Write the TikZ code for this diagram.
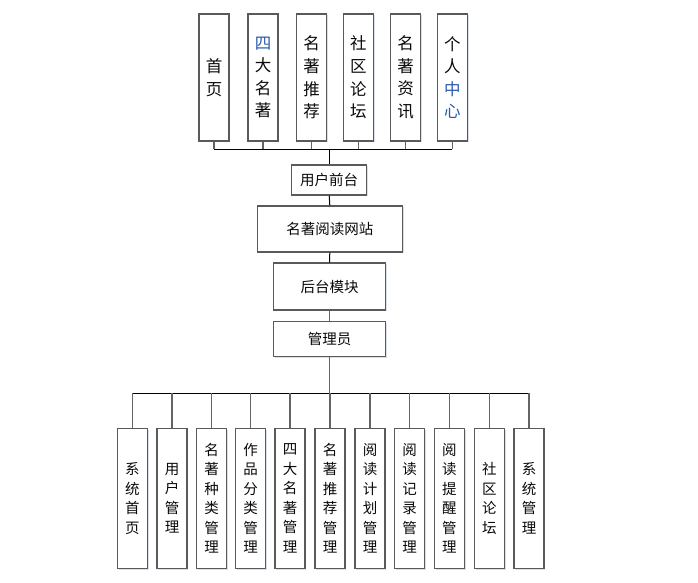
\documentclass[tikz,border=0pt]{standalone}
\usepackage{fontspec}
\setmainfont{Noto Sans CJK SC}
\usetikzlibrary{shadows}
\definecolor{boxgray}{RGB}{90,90,90}
\definecolor{stubgray}{RGB}{100,100,100}
\definecolor{txt}{RGB}{10,10,10}
\definecolor{txtblue}{RGB}{40,90,175}
\definecolor{shadowc}{RGB}{200,210,225}
\begin{document}
\begin{tikzpicture}[x=1pt,y=-1pt,
  basebox/.style={draw=boxgray, line width=1.2pt, fill=white, inner sep=0pt, align=center, text=txt,
     drop shadow={shadow xshift=1.2pt, shadow yshift=-1.2pt, fill=shadowc, opacity=0.7}},
  topbox/.style={basebox, minimum width=30pt, minimum height=127pt, font=\fontsize{16.5pt}{22.6pt}\selectfont},
  midbox/.style={basebox, font=\fontsize{14.5pt}{17pt}\selectfont},
  botbox/.style={basebox, minimum width=30pt, minimum height=140pt, font=\fontsize{14.5pt}{19.5pt}\selectfont},
  bus/.style={draw=black, line width=1pt},
  stub/.style={draw=stubgray, line width=1.2pt}]
\useasboundingbox (0,0) rectangle (698,582);
% top modules
\node[topbox] (t1) at (214,77.5) {首\\页};
\node[topbox] (t2) at (263,77.5) {{\color{txtblue}四}\\大\\名\\著};
\node[topbox] (t3) at (311.7,77.5) {名\\著\\推\\荐};
\node[topbox] (t4) at (358.3,77.5) {社\\区\\论\\坛};
\node[topbox] (t5) at (405.7,77.5) {名\\著\\资\\讯};
\node[topbox] (t6) at (452.3,77.5) {个\\人\\{\color{txtblue}中}\\{\color{txtblue}心}};
% middle chain
\node[midbox, minimum width=75pt, minimum height=30pt] (front) at (329.2,180) {用户前台};
\node[midbox, minimum width=145pt, minimum height=46pt] (site) at (329.8,229) {名著阅读网站};
\node[midbox, minimum width=112pt, minimum height=47pt] (back) at (329.5,286.5) {后台模块};
\node[midbox, minimum width=112pt, minimum height=35pt] (admin) at (329.5,339.3) {管理员};
% bottom modules
\node[botbox] (b1) at (132.3,498.3) {系\\统\\首\\页};
\node[botbox] (b2) at (172,498.3) {用\\户\\管\\理};
\node[botbox] (b3) at (211.6,498.3) {名\\著\\种\\类\\管\\理};
\node[botbox] (b4) at (250.7,498.3) {作\\品\\分\\类\\管\\理};
\node[botbox] (b5) at (290,498.3) {四\\大\\名\\著\\管\\理};
\node[botbox] (b6) at (330,498.3) {名\\著\\推\\荐\\管\\理};
\node[botbox] (b7) at (370,498.3) {阅\\读\\计\\划\\管\\理};
\node[botbox] (b8) at (409.5,498.3) {阅\\读\\记\\录\\管\\理};
\node[botbox] (b9) at (449.3,498.3) {阅\\读\\提\\醒\\管\\理};
\node[botbox] (b10) at (489.3,498.3) {社\\区\\论\\坛};
\node[botbox] (b11) at (529,498.3) {系\\统\\管\\理};
% top connectors
\coordinate (tb) at (329.2,149);
\foreach \i in {1,...,6} {\draw[stub] (t\i.south) -- (t\i.south |- tb);}
\draw[bus] (t1.south |- tb) -- (t6.south |- tb);
\draw[bus] (tb) -- (front.north);
\draw[bus] (front.south) -- (site.north);
\draw[bus] (site.south) -- (back.north);
\draw[stub] (back.south) -- (admin.north);
% bottom connectors
\coordinate (bb) at (329.5,393);
\draw[stub] (admin.south) -- (bb);
\draw[bus] (b1.north |- bb) -- (b11.north |- bb);
\foreach \i in {1,...,11} {\draw[stub] (b\i.north |- bb) -- (b\i.north);}
\end{tikzpicture}
\end{document}
